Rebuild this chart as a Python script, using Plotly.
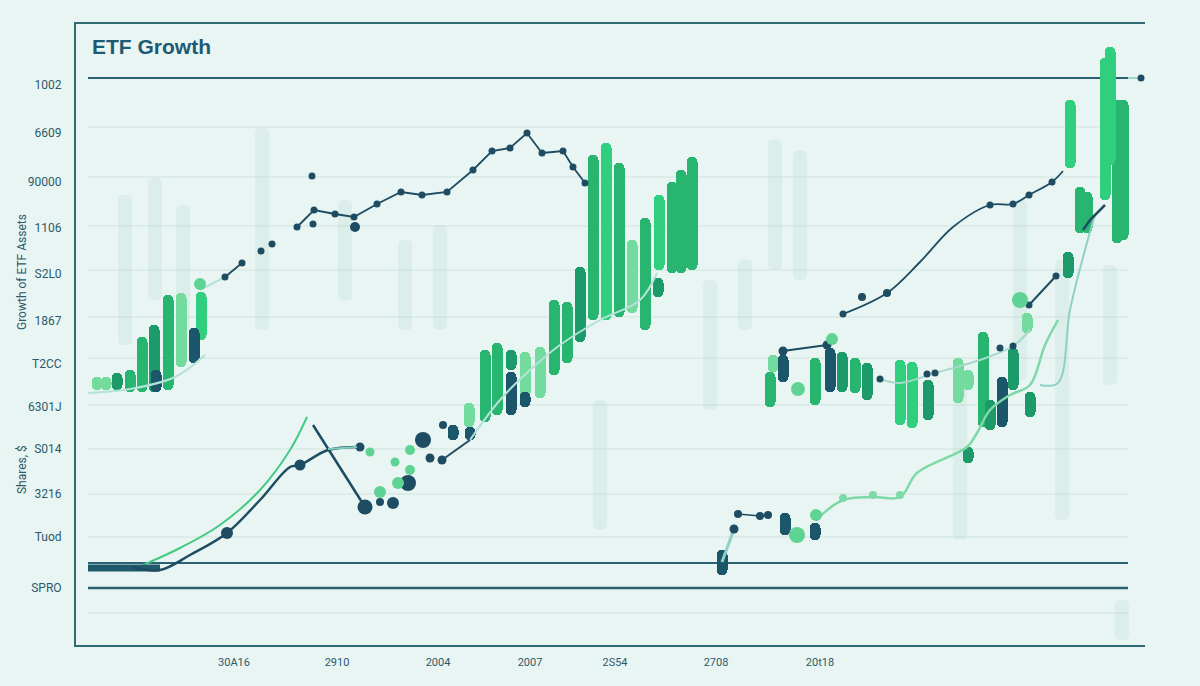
import plotly.graph_objects as go

# ---------------- data ----------------
x_ticks = [234, 337, 438, 530, 615, 716, 820]
x_labels = ["30A16", "2910", "2004", "2007", "2S54", "2708", "20t18"]

y_ticks = [560, 512, 463, 417, 371, 324, 281, 238, 196, 151, 108, 57]
y_labels = ["1002", "6609", "90000", "1106", "S2L0", "1867", "T2CC", "6301J", "S014", "3216", "Tuod", "SPRO"]

grid_levels = [518, 468, 419, 375, 328, 287, 240, 196, 151, 108, 32]
ref_levels = [567, 82, 57]

ghost_x = [125, 155, 183, 262, 345, 405, 440, 600, 690, 710, 745, 775, 800, 960, 1020, 1062, 1110, 1122]
ghost_low = [300, 345, 315, 315, 345, 315, 315, 115, 380, 235, 315, 375, 365, 105, 265, 125, 260, 5]
ghost_high = [450, 467, 440, 517, 445, 405, 420, 245, 440, 365, 385, 505, 495, 265, 445, 385, 380, 45]

bright_x = [201, 606, 659, 900, 912, 1105, 1110, 1070]
bright_low = [305, 325, 375, 220, 217, 445, 480, 477]
bright_high = [353, 502, 450, 285, 283, 587, 598, 545]

green_x = [130, 142, 168, 485, 497, 554, 567, 593, 619, 645, 672, 681, 692, 770, 815, 855, 983, 1080, 1087, 1117, 1123]
green_low = [253, 253, 255, 223, 230, 270, 282, 325, 328, 315, 372, 372, 375, 238, 240, 252, 218, 412, 412, 402, 405]
green_high = [275, 308, 350, 295, 302, 345, 343, 490, 482, 427, 463, 475, 488, 273, 287, 287, 313, 458, 453, 545, 545]

medium_x = [117, 154, 511, 580, 658, 842, 867, 928, 990, 1013, 1030, 1068, 968]
medium_low = [255, 253, 275, 303, 348, 253, 245, 225, 215, 255, 228, 367, 182]
medium_high = [272, 320, 295, 378, 367, 293, 282, 265, 245, 297, 253, 393, 198]

light_x = [97, 106, 181, 469, 525, 540, 632, 773, 958, 968, 1027]
light_low = [255, 255, 278, 218, 247, 247, 332, 273, 242, 255, 312]
light_high = [268, 268, 352, 242, 293, 298, 405, 290, 287, 275, 332]

dark_x = [156, 194, 453, 470, 511, 525, 783, 830, 1002, 722, 785, 815]
dark_low = [253, 282, 205, 205, 230, 238, 263, 253, 218, 70, 110, 105]
dark_high = [275, 317, 220, 218, 273, 253, 290, 297, 268, 95, 132, 122]

# upper dark line
up_x = [297, 314, 335, 354, 377, 401, 422, 447, 473, 492, 510, 527, 542, 563, 573, 585]
up_y = [418, 435, 431, 428, 441, 453, 450, 453, 475, 494, 497, 512, 492, 494, 478, 462]
upa_x = [225, 242]
upa_y = [368, 382]
upb_x = [261, 272]
upb_y = [394, 401]
updots_x = [312, 355, 313]
updots_y = [469, 418, 421]

# right dark line
rt_x = [843, 887, 920, 953, 990, 1013, 1029, 1052, 1063]
rt_y = [331, 352, 383, 418, 440, 441, 450, 463, 474]

# lower-left lines
gl_x = [143, 180, 220, 260, 290, 307]
gl_y = [80, 97, 120, 155, 195, 228]
da_x = [132, 160, 190, 227, 260, 290, 300, 328, 360]
da_y = [78, 75, 90, 112, 145, 178, 180, 195, 198]
db_x = [313, 365]
db_y = [220, 138]
band_x = [88, 160]
band_y = [77, 77]

sd_x = [380, 393, 408, 423, 443, 430, 442]
sd_y = [143, 142, 162, 205, 220, 187, 185]
sd_s = [8, 12, 16, 16, 8, 9, 9]
sl_x = [370, 380, 395, 410, 410, 398, 200, 797, 816, 832, 798, 1020]
sl_y = [193, 153, 183, 195, 175, 162, 361, 110, 130, 306, 256, 345]
sl_s = [9, 12, 9, 10, 10, 12, 12, 16, 12, 12, 14, 16]

pale_mid_x = [470, 500, 530, 560, 600, 640, 657]
pale_mid_y = [205, 245, 275, 300, 325, 345, 372]
pale_left_x = [88, 130, 175, 205]
pale_left_y = [252, 256, 268, 290]
pale_link_x = [200, 225]
pale_link_y = [355, 368]

rise_x = [816, 843, 873, 900, 917, 967, 977, 990, 1010, 1030, 1045, 1058]
rise_y = [125, 145, 148, 148, 172, 198, 212, 235, 250, 260, 300, 325]

teal_x = [1040, 1058, 1070, 1085, 1095]
teal_y = [260, 262, 335, 395, 430]

low_mid_x = [738, 760, 768]
low_mid_y = [131, 129, 130]
stem_x = [722, 734]
stem_y = [83, 116]

mr_x = [783, 827]
mr_y = [294, 300]
mr_pale_x = [880, 900, 935, 980, 1013, 1030]
mr_pale_y = [266, 262, 272, 285, 299, 315]
mr_dots_x = [880, 927, 935, 1000, 1013]
mr_dots_y = [266, 271, 272, 297, 299]

seg_x = [1029, 1056]
seg_y = [340, 369]
tip_x = [1083, 1090, 1105]
tip_y = [415, 425, 440]

top_x = [1128, 1141]
top_y = [567, 567]

# ---------------- styling ----------------
BG = "#e9f5f2"
NAVY = "#1d4c63"
DARK = "#1b566b"
BRIGHT = "#2fcf7d"
GREEN = "#27b56f"
MEDIUM = "#1d9a6a"
LIGHT = "#74db9f"
PALE = "#b3e2d6"
TXT = "#2b5a6b"

fig = go.Figure()


def bars(xs, lo, hi, color, width=11, opacity=1.0):
    fig.add_trace(go.Bar(
        x=xs, base=lo, y=[h - l for l, h in zip(lo, hi)],
        width=width, marker=dict(color=color, line=dict(width=0)),
        opacity=opacity, showlegend=False, hoverinfo="skip"))


def line(xs, ys, color, width=2, mode="lines", size=8, shape="linear", msize=None, mcolor=None):
    fig.add_trace(go.Scatter(
        x=xs, y=ys, mode=mode, line=dict(color=color, width=width, shape=shape),
        marker=dict(size=msize if msize is not None else size, color=mcolor or color,
                    opacity=1, line=dict(width=0)),
        showlegend=False, hoverinfo="skip"))


# ghost columns
bars(ghost_x, ghost_low, ghost_high, "rgba(170,212,200,0.2)", width=14)

# pale lines (behind)
line(pale_left_x, pale_left_y, PALE, 2, shape="spline")
line(pale_link_x, pale_link_y, PALE, 2)
line(pale_mid_x, pale_mid_y, PALE, 2, shape="spline")
line(mr_pale_x, mr_pale_y, "#a5d9cb", 2, shape="spline")
line(teal_x, teal_y, "#8fd0c4", 2, shape="spline")
line(stem_x, stem_y, "#8fd0c4", 3)

# bars
bars(light_x, light_low, light_high, LIGHT)
bars(green_x, green_low, green_high, GREEN)
bars(medium_x, medium_low, medium_high, MEDIUM)
bars(bright_x, bright_low, bright_high, BRIGHT)
bars(dark_x, dark_low, dark_high, DARK)

# lines
line(rise_x, rise_y, "#7ed9a8", 2.5, shape="spline")
line(gl_x, gl_y, "#45c987", 2, shape="spline")
line(band_x, band_y, "#1f5a6a", 7)
line(da_x, da_y, NAVY, 2.5, mode="lines+markers", shape="spline",
     msize=[0, 0, 0, 12, 0, 0, 11, 0, 9])
line(db_x, db_y, NAVY, 2.5, mode="lines+markers", msize=[0, 15])
line([328, 357], [196, 198], "#7fcdbd", 2)
line(up_x, up_y, NAVY, 1.8, mode="lines+markers", size=7)
line(upa_x, upa_y, NAVY, 1.8, mode="lines+markers", size=7)
line(upb_x, upb_y, NAVY, 1.8, mode="markers", size=7)
line(updots_x, updots_y, NAVY, mode="markers", msize=[7, 10, 7])
line(rt_x, rt_y, NAVY, 1.8, mode="lines+markers", shape="spline",
     msize=[7, 8, 0, 0, 7, 7, 7, 7, 0])
line([862], [348], NAVY, mode="markers", size=8)
line(top_x, top_y, "#8fc8bf", 1.5, mode="lines+markers", msize=[0, 7], mcolor=NAVY)
line(low_mid_x, low_mid_y, NAVY, 1.5, mode="lines+markers", size=8)
line([734], [116], NAVY, mode="markers", size=9)
line(mr_x, mr_y, NAVY, 1.8, mode="lines+markers", size=9)
line(mr_dots_x, mr_dots_y, NAVY, mode="markers", size=7)
line(seg_x, seg_y, NAVY, 2, mode="lines+markers", size=7)
line(tip_x, tip_y, NAVY, 2.5)
line(sd_x, sd_y, NAVY, mode="markers", msize=sd_s)
line([442, 470], [185, 205], NAVY, 2)
line(sl_x, sl_y, "#5fd394", mode="markers", msize=sl_s)
line([843, 873, 900], [147, 150, 150], "#7ed9a8", mode="markers", size=8)

# grid & reference lines
shapes = []
for g in grid_levels:
    shapes.append(dict(type="line", xref="x", yref="y", x0=88, x1=1128, y0=g, y1=g,
                       line=dict(color="#cfe3de", width=1.2), layer="below"))
ref_w = {567: 2, 82: 2, 57: 2.5}
for r in ref_levels:
    shapes.append(dict(type="line", xref="x", yref="y", x0=88, x1=1128, y0=r, y1=r,
                       line=dict(color="#2a6173", width=ref_w[r]), layer="below"))

fig.update_layout(
    width=1200, height=686,
    margin=dict(l=76, r=55, t=24, b=41),
    paper_bgcolor=BG, plot_bgcolor=BG,
    barmode="overlay", bargap=0, barcornerradius=5,
    shapes=shapes,
    showlegend=False,
    font=dict(family="Roboto, DejaVu Sans, sans-serif", color=TXT),
    title=dict(text="<b>ETF Growth</b>", x=92 / 1200, y=1 - 47 / 686,
               xanchor="left", yanchor="middle",
               font=dict(family="Liberation Sans, Arial, sans-serif", size=21, color="#1d5a73")),
    xaxis=dict(range=[76, 1145], showgrid=False, zeroline=False,
               showline=True, mirror=True, linecolor="#2f6b73", linewidth=2,
               tickvals=x_ticks, ticktext=x_labels, ticks="",
               tickfont=dict(size=11, color=TXT), ticklabelstandoff=6),
    yaxis=dict(range=[0, 621], showgrid=False, zeroline=False,
               showline=True, mirror=False, linecolor="#2f6b73", linewidth=2,
               tickvals=y_ticks, ticktext=y_labels, ticks="",
               tickfont=dict(size=12, color=TXT), ticklabelstandoff=10),
    annotations=[
        dict(text="Growth of ETF Assets", xref="paper", yref="paper",
             x=-54 / 1069, y=(645 - 272) / 621, showarrow=False, textangle=-90,
             font=dict(size=12, color=TXT), xanchor="center", yanchor="middle"),
        dict(text="Shares, $", xref="paper", yref="paper",
             x=-54 / 1069, y=(645 - 470) / 621, showarrow=False, textangle=-90,
             font=dict(size=12, color=TXT), xanchor="center", yanchor="middle"),
    ],
)

fig.write_html(
    "out.html",
    config={"displayModeBar": False, "staticPlot": True},
    post_script="document.body.style.margin='0';document.body.style.background='#e9f5f2';",
)
